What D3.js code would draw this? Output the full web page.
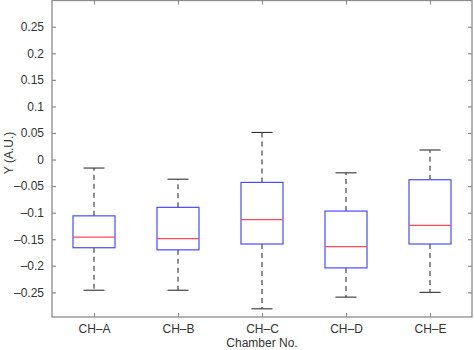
<!DOCTYPE html>
<html><head><meta charset="utf-8">
<script src="https://cdn.jsdelivr.net/npm/d3@7"></script>
<style>body{margin:0;background:#fff}svg{display:block}</style>
</head><body>
<script>
const categories = ["CH\u2013A","CH\u2013B","CH\u2013C","CH\u2013D","CH\u2013E"];
const lowerWhisker = [-0.246,-0.246,-0.281,-0.259,-0.250];
const q1 = [-0.166,-0.170,-0.159,-0.204,-0.159];
const median = [-0.146,-0.149,-0.113,-0.164,-0.124];
const q3 = [-0.106,-0.090,-0.043,-0.097,-0.038];
const upperWhisker = [-0.016,-0.037,0.051,-0.025,0.018];
const yTicks = [-0.25,-0.2,-0.15,-0.1,-0.05,0,0.05,0.1,0.15,0.2,0.25];
const yTickLabels = ["\u20130.25","\u20130.2","\u20130.15","\u20130.1","\u20130.05","0","0.05","0.1","0.15","0.2","0.25"];

const W=474,H=350, L=52, R=472, T=0.5, B=317;
const svg=d3.select("body").append("svg").attr("width",W).attr("height",H);
const x=d3.scaleLinear().domain([0.5,5.5]).range([L,R]);
const y=d3.scaleLinear().domain([-0.2964,0.2994]).range([B,T]);
const font="'Liberation Sans', Arial, sans-serif";
const axisColor="#8c8c8c";

svg.append("rect").attr("x",L).attr("y",T).attr("width",R-L).attr("height",B-T)
  .attr("fill","none").attr("stroke",axisColor).attr("stroke-width",1.3);

const yAxis=d3.axisLeft(y).tickValues(yTicks).tickSize(-4).tickPadding(8)
  .tickFormat((d,i)=>yTickLabels[i]);
const gy=svg.append("g").attr("transform",`translate(${L},0)`).call(yAxis);
const yAxisR=d3.axisRight(y).tickValues(yTicks).tickSize(-4).tickFormat("");
const gyr=svg.append("g").attr("transform",`translate(${R},0)`).call(yAxisR);
const xs=d3.range(1,6);
const xAxis=d3.axisBottom(x).tickValues(xs).tickSize(-4).tickPadding(7)
  .tickFormat((d,i)=>categories[i]);
const gx=svg.append("g").attr("transform",`translate(0,${B})`).call(xAxis);
const xAxisT=d3.axisTop(x).tickValues(xs).tickSize(-4).tickFormat("");
const gxt=svg.append("g").attr("transform",`translate(0,${T})`).call(xAxisT);
[gy,gyr,gx,gxt].forEach(g=>{
  g.select(".domain").remove();
  g.selectAll(".tick line").attr("stroke",axisColor).attr("stroke-width",1.2);
  g.selectAll("text").attr("fill","#333").style("font-family",font).style("font-size","12px");
});

const data=categories.map((c,i)=>({i:i+1,lw:lowerWhisker[i],q1:q1[i],md:median[i],q3:q3[i],uw:upperWhisker[i]}));
const bw=(x(1.25)-x(0.75)), cw=bw/2;
const g=svg.append("g");
data.forEach(d=>{
  const cx=x(d.i);
  g.append("line").attr("x1",cx).attr("x2",cx).attr("y1",y(d.q3)).attr("y2",y(d.uw))
    .attr("stroke","#333").attr("stroke-width",1.1).attr("stroke-dasharray","5,4");
  g.append("line").attr("x1",cx).attr("x2",cx).attr("y1",y(d.q1)).attr("y2",y(d.lw))
    .attr("stroke","#333").attr("stroke-width",1.1).attr("stroke-dasharray","5,4");
  [d.uw,d.lw].forEach(v=>g.append("line").attr("x1",cx-cw/2).attr("x2",cx+cw/2)
    .attr("y1",y(v)).attr("y2",y(v)).attr("stroke","#333").attr("stroke-width",1.1));
  g.append("rect").attr("x",cx-bw/2).attr("width",bw).attr("y",y(d.q3)).attr("height",y(d.q1)-y(d.q3))
    .attr("fill","none").attr("stroke","#4a4aff").attr("stroke-width",1.2);
  g.append("line").attr("x1",cx-bw/2).attr("x2",cx+bw/2).attr("y1",y(d.md)).attr("y2",y(d.md))
    .attr("stroke","#ff4a5a").attr("stroke-width",1.2);
});

svg.append("text").attr("transform",`translate(13,153) rotate(-90)`).attr("text-anchor","middle")
  .style("font-family",font).style("font-size","12px").attr("fill","#333").text("Y (A.U.)");
svg.append("text").attr("x",262).attr("y",347).attr("text-anchor","middle")
  .style("font-family",font).style("font-size","12px").attr("fill","#333").text("Chamber No.");
</script>
</body></html>
